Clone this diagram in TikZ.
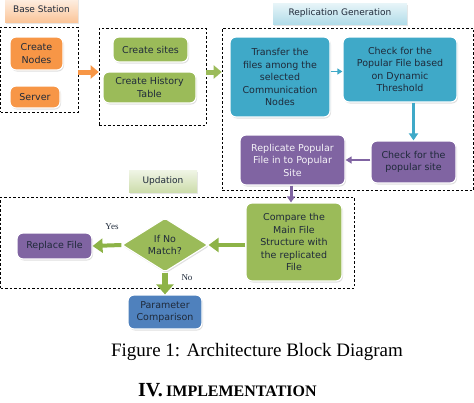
\documentclass[tikz,border=0pt]{standalone}
\usepackage{fontspec}
\setmainfont{Liberation Serif}
\newfontfamily\boxfont{DejaVu Sans}
\usepackage{tikz}
\usetikzlibrary{arrows.meta, positioning, calc, shapes, shadows}

\definecolor{orangebox}{HTML}{F79646}
\definecolor{greenbox}{HTML}{9BBB59}
\definecolor{tealbox}{HTML}{3FA9C8}
\definecolor{purplebox}{HTML}{8064A2}
\definecolor{bluebox}{HTML}{4F81BD}
\definecolor{greenarrow}{HTML}{8DB347}
\definecolor{textdark}{HTML}{1F2A3A}

\begin{document}
\begin{tikzpicture}[x=1pt, y=-1pt,
  box/.style={draw=white, line width=1.2pt, rounded corners=6pt, align=center, inner sep=2pt, font=\boxfont\fontsize{9.5}{12.5}\selectfont, text=textdark, drop shadow={opacity=0.25, shadow xshift=1pt, shadow yshift=-1.5pt}},
  tab/.style={align=center, inner sep=0pt, font=\boxfont\fontsize{9}{10}\selectfont, text=textdark, drop shadow={opacity=0.2, shadow xshift=1pt, shadow yshift=-1.5pt}},
  frame/.style={draw, dash pattern=on 2.5pt off 2pt, line width=0.6pt, inner sep=0pt},
  lbl/.style={font=\fontsize{9}{10}\selectfont, text=textdark},
  fat/.style={line width=5pt, -{Triangle[length=8pt, width=13pt]}},
]
\useasboundingbox (0,0) rectangle (474,402);

% dashed groups
\node[frame, minimum width=77.5, minimum height=85] (bsframe) at (39.25,69.5) {};
\node[frame, minimum width=107, minimum height=97] (siteframe) at (152.5,76.5) {};
\node[frame, minimum width=251.5, minimum height=162] (repframe) at (347.75,109) {};
\node[frame, minimum width=353.5, minimum height=91] (updframe) at (177.25,242.5) {};

% group titles
\node[tab, top color=orangebox!12, bottom color=orangebox!55, minimum width=73, minimum height=25] (bstab) at (41.5,9.5) {Base Station};
\node[tab, top color=tealbox!12, bottom color=tealbox!40, minimum width=134, minimum height=21] (reptab) at (340,13.5) {Replication Generation};
\node[tab, top color=greenbox!15, bottom color=greenbox!50, minimum width=68, minimum height=22] (updtab) at (163,181) {Updation};

% base station
\node[box, fill=orangebox, minimum width=53, minimum height=33] (cnodes) at (36.5,53.5) {Create\\Nodes};
\node[box, fill=orangebox, minimum width=50, minimum height=22] (server) at (35,97) {Server};

% sites
\node[box, fill=greenbox, minimum width=75, minimum height=25] (csites) at (150.5,49.5) {Create sites};
\node[box, fill=greenbox, minimum width=93, minimum height=31] (chist) at (149.5,87.5) {Create History\\Table};

% replication
\node[box, fill=tealbox, minimum width=100, minimum height=80] (transfer) at (280,77) {Transfer the\\files among the\\selected\\Communication\\Nodes};
\node[box, fill=tealbox, minimum width=114, minimum height=65] (checkfile) at (400,69.5) {Check for the\\Popular File based\\on Dynamic\\Threshold};
\node[box, fill=purplebox, minimum width=85, minimum height=42] (checksite) at (413.5,162) {Check for the\\popular site};
\node[box, fill=purplebox, text=white!92!purplebox, minimum width=105, minimum height=50] (replicate) at (292.5,160) {Replicate Popular\\File in to Popular\\Site};

% updation
\node[box, fill=greenbox, minimum width=96, minimum height=78] (compare) at (294,242) {Compare the\\Main File\\Structure with\\the replicated\\File};
\node[box, shape=diamond, fill=greenbox, rounded corners=2pt, inner sep=0pt, minimum width=86, minimum height=52] (decide) at (165,245) {If No\\Match?};
\node[box, fill=purplebox, minimum width=75, minimum height=26] (replace) at (54.5,246) {Replace File};
\node[box, fill=bluebox, minimum width=74, minimum height=34] (param) at (165,312) {Parameter\\Comparison};
\node[lbl] (yes) at (112,227) {Yes};
\node[lbl] (no) at (187,278) {No};

% connectors
\draw[fat, orangebox] ([yshift=-2.5pt]bsframe.east) -- ([yshift=-2.5pt]bsframe.east -| siteframe.west);
\draw[fat, greenbox] ([yshift=4.5pt]siteframe.east) -- ([yshift=4.5pt]siteframe.east -| repframe.west);
\draw[tealbox, line width=1.5pt, -{Triangle[length=5pt, width=6pt]}] ([yshift=-2pt]checkfile.west -| transfer.east) -- ([yshift=-2pt]checkfile.west);
\draw[tealbox, line width=3.5pt, -{Triangle[length=7pt, width=9pt]}] (checksite.north |- checkfile.south) -- (checksite.north);
\draw[purplebox, line width=2pt, -{Triangle[length=6pt, width=7pt]}] (replicate.east -| checksite.west) -- (replicate.east);
\draw[purplebox, line width=3pt, -{Triangle[length=6pt, width=8pt]}] ([xshift=-1.5pt]replicate.south) -- ([xshift=-1.5pt]replicate.south |- compare.north);
\draw[greenarrow, line width=4pt, -{Triangle[length=10pt, width=14pt]}] (decide.east -| compare.west) -- (decide.east);
\draw[greenarrow, line width=4pt, -{Triangle[length=10pt, width=14pt]}] (decide.west) -- (replace.east);
\draw[greenarrow, line width=6pt, -{Triangle[length=10pt, width=17pt]}] (decide.south) -- (param.north);

% caption
\node[font=\fontsize{19}{22}\selectfont] (caption) at (257,352) {Figure 1: Architecture Block Diagram};
\node[anchor=base west, inner sep=0pt] (heading) at (138,396) {\fontsize{20}{22}\selectfont\bfseries IV.\,\fontsize{16}{17}\selectfont IMPLEMENTATION};
\end{tikzpicture}
\end{document}
